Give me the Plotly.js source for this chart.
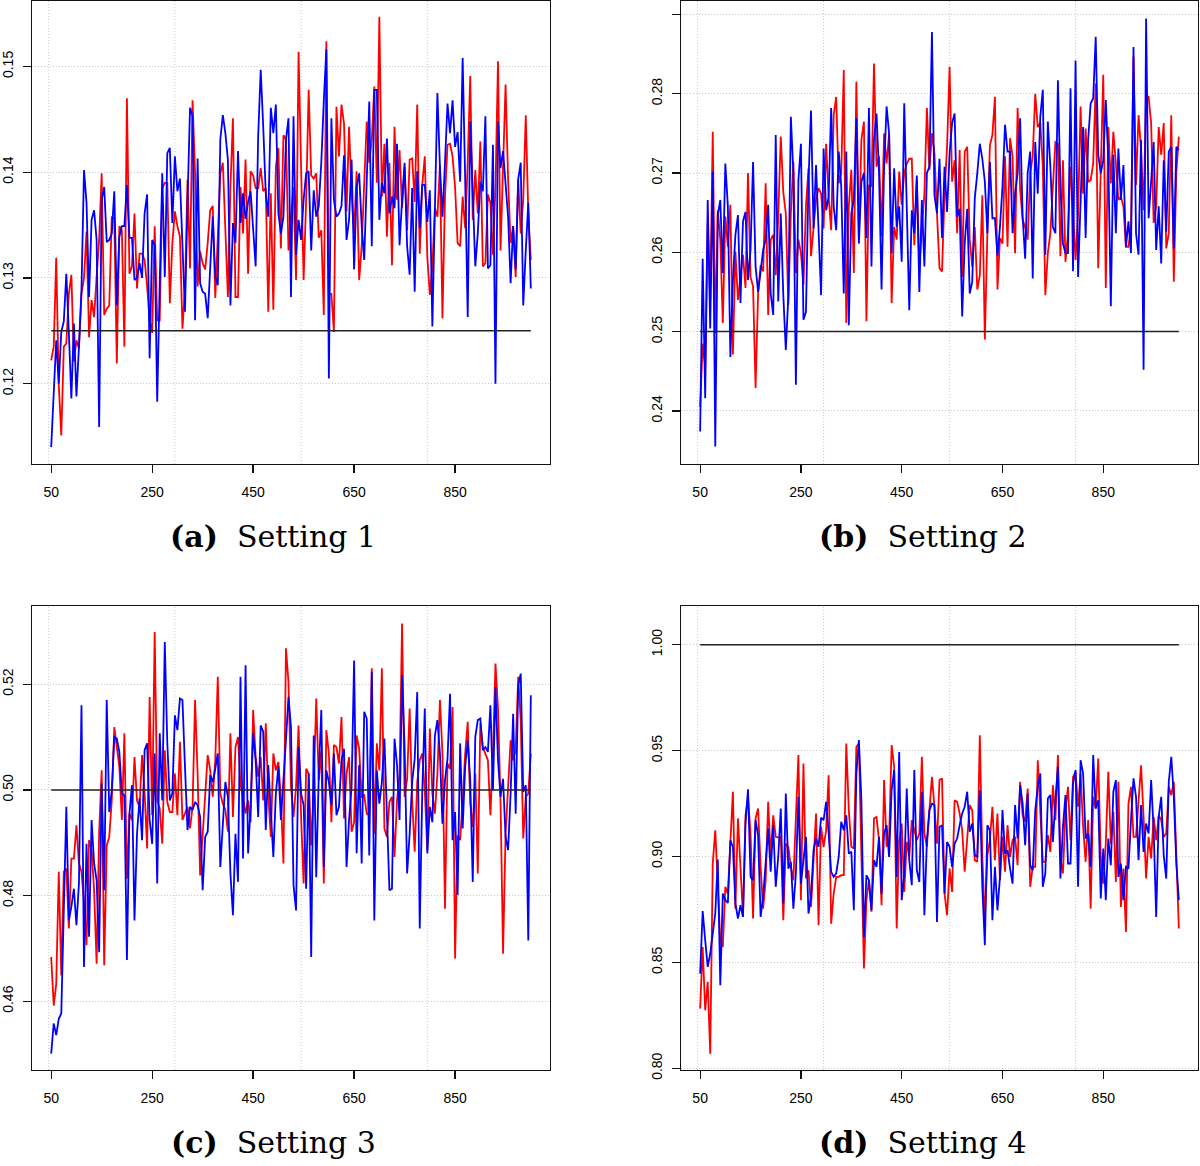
<!DOCTYPE html>
<html>
<head>
<meta charset="utf-8">
<script src="https://cdn.plot.ly/plotly-3.0.1.min.js"></script>
<style>
  html, body { margin: 0; padding: 0; background: #ffffff; }
  #chart { width: 1200px; height: 1166px; }
</style>
</head>
<body>
<div id="chart"></div>
<script>
// ---------- data ----------
const sampleSizes = [50,55,60,65,70,75,80,85,90,95,100,105,110,115,120,125,130,135,140,145,150,155,160,165,170,175,180,185,190,195,200,205,210,215,220,225,230,235,240,245,250,255,260,265,270,275,280,285,290,295,300,305,310,315,320,325,330,335,340,345,350,355,360,365,370,375,380,385,390,395,400,405,410,415,420,425,430,435,440,445,450,455,460,465,470,475,480,485,490,495,500,505,510,515,520,525,530,535,540,545,550,555,560,565,570,575,580,585,590,595,600,605,610,615,620,625,630,635,640,645,650,655,660,665,670,675,680,685,690,695,700,705,710,715,720,725,730,735,740,745,750,755,760,765,770,775,780,785,790,795,800,805,810,815,820,825,830,835,840,845,850,855,860,865,870,875,880,885,890,895,900,905,910,915,920,925,930,935,940,945,950,955,960,965,970,975,980,985,990,995,1000];

const xTickVals = [50, 250, 450, 650, 850];
const xGridVals = [45, 295, 545, 795];

const captions = ["<b>(a)</b>  Setting 1", "<b>(b)</b>  Setting 2", "<b>(c)</b>  Setting 3", "<b>(d)</b>  Setting 4"];
const trueValues = [0.125, 0.25, 0.5, 1.0];

const yTicks1 = [0.12, 0.13, 0.14, 0.15];
const yTicks2 = [0.24, 0.25, 0.26, 0.27, 0.28, 0.29];
const yTicks3 = [0.46, 0.48, 0.50, 0.52];
const yTicks4 = [0.80, 0.85, 0.90, 0.95, 1.00];

const s1Red = [0.1222,0.1235,0.1319,0.1199,0.1151,0.1235,0.1238,0.1285,0.1303,0.1221,
0.1241,0.1233,0.1285,0.1300,0.1344,0.1244,0.1279,0.1263,0.1301,0.1336,
0.1399,0.1265,0.1271,0.1274,0.1358,0.1356,0.1219,0.1349,0.1345,0.1235,
0.1470,0.1304,0.1311,0.1361,0.1290,0.1323,0.1323,0.1317,0.1292,0.1260,
0.1248,0.1349,0.1260,0.1260,0.1385,0.1390,0.1390,0.1276,0.1333,0.1363,
0.1349,0.1339,0.1252,0.1289,0.1393,0.1309,0.1468,0.1399,0.1292,0.1325,
0.1314,0.1308,0.1333,0.1364,0.1368,0.1281,0.1339,0.1399,0.1409,0.1349,
0.1282,0.1386,0.1451,0.1282,0.1282,0.1386,0.1342,0.1412,0.1304,0.1401,
0.1397,0.1385,0.1385,0.1404,0.1382,0.1385,0.1268,0.1380,0.1270,0.1405,
0.1423,0.1328,0.1435,0.1431,0.1326,0.1358,0.1386,0.1298,0.1514,0.1405,
0.1298,0.1374,0.1478,0.1397,0.1394,0.1399,0.1338,0.1345,0.1265,0.1524,
0.1285,0.1285,0.1249,0.1462,0.1415,0.1464,0.1446,0.1363,0.1443,0.1380,
0.1342,0.1401,0.1298,0.1330,0.1386,0.1448,0.1409,0.1431,0.1481,0.1390,
0.1547,0.1377,0.1427,0.1339,0.1409,0.1312,0.1443,0.1374,0.1421,0.1366,
0.1405,0.1345,0.1412,0.1413,0.1372,0.1464,0.1323,0.1388,0.1415,0.1320,
0.1284,0.1311,0.1366,0.1358,0.1407,0.1262,0.1377,0.1426,0.1427,0.1415,
0.1386,0.1333,0.1330,0.1377,0.1347,0.1409,0.1491,0.1355,0.1402,0.1361,
0.1429,0.1311,0.1314,0.1379,0.1371,0.1322,0.1386,0.1505,0.1326,0.1405,
0.1483,0.1393,0.1333,0.1349,0.1301,0.1393,0.1342,0.1374,0.1454,0.1361,
0.1317];

const s1Blue = [0.1140,0.1191,0.1241,0.1200,0.1249,0.1259,0.1304,0.1248,0.1186,0.1257,
0.1188,0.1235,0.1289,0.1402,0.1371,0.1282,0.1355,0.1364,0.1336,0.1159,
0.1374,0.1386,0.1334,0.1336,0.1342,0.1382,0.1274,0.1339,0.1349,0.1349,
0.1388,0.1338,0.1338,0.1298,0.1300,0.1314,0.1300,0.1361,0.1379,0.1224,
0.1336,0.1331,0.1183,0.1295,0.1399,0.1301,0.1418,0.1423,0.1352,0.1415,
0.1382,0.1394,0.1328,0.1268,0.1371,0.1461,0.1453,0.1260,0.1413,0.1295,
0.1287,0.1285,0.1262,0.1311,0.1358,0.1301,0.1293,0.1431,0.1454,0.1437,
0.1412,0.1274,0.1352,0.1333,0.1420,0.1352,0.1380,0.1356,0.1372,0.1382,
0.1342,0.1311,0.1434,0.1497,0.1443,0.1380,0.1358,0.1461,0.1437,0.1464,
0.1361,0.1342,0.1358,0.1431,0.1451,0.1282,0.1453,0.1322,0.1355,0.1336,
0.1374,0.1399,0.1401,0.1326,0.1383,0.1358,0.1368,0.1409,0.1468,0.1516,
0.1205,0.1451,0.1374,0.1358,0.1361,0.1368,0.1416,0.1336,0.1355,0.1412,
0.1308,0.1386,0.1399,0.1349,0.1317,0.1399,0.1467,0.1330,0.1478,0.1478,
0.1355,0.1390,0.1380,0.1432,0.1361,0.1377,0.1366,0.1427,0.1331,0.1374,
0.1409,0.1330,0.1303,0.1385,0.1287,0.1401,0.1347,0.1388,0.1388,0.1353,
0.1383,0.1254,0.1361,0.1475,0.1405,0.1358,0.1409,0.1465,0.1437,0.1468,
0.1424,0.1438,0.1391,0.1508,0.1393,0.1263,0.1448,0.1368,0.1311,0.1342,
0.1391,0.1382,0.1453,0.1309,0.1312,0.1426,0.1200,0.1448,0.1404,0.1420,
0.1386,0.1358,0.1295,0.1349,0.1308,0.1393,0.1409,0.1274,0.1326,0.1371,
0.1290];

const s2Red = [0.2405,0.2485,0.2456,0.2637,0.2540,0.2752,0.2498,0.2653,0.2616,0.2511,
0.2645,0.2607,0.2660,0.2471,0.2601,0.2540,0.2569,0.2597,0.2555,0.2700,
0.2569,0.2557,0.2429,0.2548,0.2584,0.2576,0.2687,0.2521,0.2616,0.2622,
0.2571,0.2645,0.2746,0.2676,0.2649,0.2534,0.2649,0.2714,0.2574,0.2616,
0.2599,0.2559,0.2658,0.2706,0.2595,0.2628,0.2666,0.2681,0.2674,0.2630,
0.2737,0.2670,0.2628,0.2773,0.2796,0.2687,0.2700,0.2830,0.2511,0.2658,
0.2704,0.2574,0.2815,0.2618,0.2742,0.2765,0.2513,0.2685,0.2683,0.2838,
0.2708,0.2721,0.2620,0.2750,0.2712,0.2750,0.2536,0.2632,0.2616,0.2702,
0.2660,0.2700,0.2712,0.2718,0.2718,0.2609,0.2691,0.2584,0.2628,0.2674,
0.2782,0.2704,0.2750,0.2725,0.2649,0.2580,0.2576,0.2674,0.2733,0.2834,
0.2689,0.2716,0.2624,0.2729,0.2569,0.2727,0.2733,0.2616,0.2582,0.2632,
0.2553,0.2571,0.2672,0.2490,0.2624,0.2735,0.2748,0.2796,0.2553,0.2618,
0.2611,0.2721,0.2607,0.2744,0.2721,0.2599,0.2782,0.2679,0.2641,0.2632,
0.2616,0.2700,0.2721,0.2800,0.2758,0.2763,0.2708,0.2546,0.2599,0.2624,
0.2683,0.2739,0.2737,0.2595,0.2716,0.2588,0.2624,0.2708,0.2653,0.2590,
0.2649,0.2784,0.2674,0.2756,0.2689,0.2691,0.2712,0.2813,0.2580,0.2700,
0.2824,0.2555,0.2758,0.2687,0.2752,0.2712,0.2666,0.2670,0.2658,0.2607,
0.2607,0.2632,0.2847,0.2685,0.2773,0.2729,0.2653,0.2798,0.2796,0.2763,
0.2637,0.2658,0.2758,0.2723,0.2763,0.2605,0.2624,0.2773,0.2563,0.2700,
0.2746];

const s2Blue = [0.2374,0.2592,0.2416,0.2666,0.2504,0.2702,0.2355,0.2647,0.2666,0.2574,
0.2712,0.2658,0.2468,0.2565,0.2622,0.2647,0.2536,0.2639,0.2651,0.2565,
0.2603,0.2714,0.2582,0.2550,0.2576,0.2603,0.2616,0.2660,0.2548,0.2521,
0.2748,0.2538,0.2649,0.2546,0.2477,0.2544,0.2771,0.2700,0.2433,0.2691,
0.2737,0.2515,0.2525,0.2689,0.2779,0.2630,0.2710,0.2624,0.2546,0.2731,
0.2653,0.2670,0.2782,0.2658,0.2628,0.2727,0.2683,0.2548,0.2727,0.2508,
0.2649,0.2666,0.2769,0.2611,0.2689,0.2700,0.2618,0.2782,0.2582,0.2742,
0.2775,0.2700,0.2553,0.2706,0.2784,0.2750,0.2599,0.2706,0.2632,0.2658,
0.2588,0.2788,0.2655,0.2527,0.2653,0.2624,0.2697,0.2550,0.2666,0.2582,
0.2700,0.2708,0.2878,0.2672,0.2649,0.2718,0.2618,0.2708,0.2651,0.2725,
0.2763,0.2775,0.2645,0.2655,0.2519,0.2611,0.2655,0.2548,0.2563,0.2668,
0.2700,0.2737,0.2718,0.2689,0.2624,0.2714,0.2643,0.2643,0.2595,0.2632,
0.2683,0.2761,0.2727,0.2727,0.2624,0.2674,0.2700,0.2769,0.2645,0.2592,
0.2700,0.2727,0.2567,0.2739,0.2674,0.2771,0.2805,0.2597,0.2765,0.2708,
0.2632,0.2624,0.2817,0.2683,0.2611,0.2599,0.2599,0.2807,0.2576,0.2842,
0.2569,0.2674,0.2758,0.2618,0.2742,0.2788,0.2794,0.2872,0.2723,0.2700,
0.2716,0.2792,0.2716,0.2532,0.2723,0.2624,0.2731,0.2666,0.2710,0.2607,
0.2639,0.2599,0.2859,0.2624,0.2597,0.2742,0.2452,0.2895,0.2643,0.2689,
0.2739,0.2603,0.2658,0.2586,0.2716,0.2626,0.2727,0.2733,0.2605,0.2733,
0.2729];

const s3Red = [0.4684,0.4592,0.4633,0.4845,0.4649,0.4845,0.4851,0.4738,0.4870,0.4870,
0.4933,0.4861,0.4845,0.4788,0.4706,0.4905,0.4886,0.4810,0.4671,0.4921,
0.5037,0.4668,0.4895,0.4911,0.4980,0.5119,0.5081,0.5044,0.4943,0.5107,
0.4832,0.4955,0.4943,0.5062,0.4980,0.4968,0.5066,0.4996,0.4889,0.5176,
0.4952,0.5299,0.4980,0.4965,0.4898,0.5075,0.4977,0.4958,0.4958,0.5031,
0.4952,0.5091,0.4943,0.4955,0.4968,0.4927,0.4968,0.5170,0.5031,0.4838,
0.4908,0.4987,0.5066,0.5037,0.4987,0.5056,0.5214,0.4993,0.4974,0.4962,
0.4921,0.5107,0.4949,0.5081,0.5100,0.5009,0.4987,0.4955,0.4980,0.4939,
0.5151,0.5062,0.5025,0.5062,0.4980,0.5126,0.4990,0.4911,0.5069,0.5037,
0.5053,0.4984,0.4861,0.5268,0.5204,0.5006,0.4949,0.5006,0.5122,0.4949,
0.4823,0.5040,0.5031,0.4895,0.5003,0.5173,0.5018,0.5075,0.4823,0.5113,
0.5069,0.4939,0.5085,0.5081,0.5050,0.5138,0.4946,0.5031,0.5062,0.4921,
0.4939,0.5103,0.5078,0.4987,0.4990,0.4955,0.4952,0.5230,0.4917,0.5088,
0.5037,0.5230,0.4927,0.4911,0.4977,0.4987,0.4873,0.4980,0.5031,0.5315,
0.4987,0.5021,0.5154,0.4980,0.4883,0.5015,0.5056,0.5069,0.4999,0.4886,
0.5116,0.4993,0.4955,0.5031,0.5170,0.5069,0.4775,0.5050,0.5040,0.5157,
0.4681,0.4914,0.4905,0.4980,0.5069,0.5129,0.4974,0.4930,0.5031,0.4842,
0.5126,0.5081,0.5069,0.5056,0.4952,0.5069,0.5239,0.5154,0.4980,0.4690,
0.4917,0.5018,0.5094,0.5056,0.5075,0.5214,0.5132,0.4908,0.4987,0.4993,
0.5069];

const s3Blue = [0.4501,0.4558,0.4536,0.4567,0.4577,0.4791,0.4968,0.4753,0.4779,0.4813,
0.4744,0.4823,0.5160,0.4665,0.4898,0.4722,0.4943,0.4861,0.4829,0.4693,
0.5012,0.4810,0.5170,0.4958,0.4999,0.5100,0.5097,0.5072,0.4993,0.4990,
0.4678,0.4955,0.5009,0.4753,0.4917,0.4984,0.4905,0.5075,0.5088,0.4943,
0.4898,0.5069,0.4823,0.5107,0.4980,0.5280,0.5088,0.4980,0.4993,0.5141,
0.5113,0.5173,0.5170,0.5044,0.4924,0.4968,0.4962,0.4977,0.4971,0.4949,
0.4810,0.4911,0.4921,0.5028,0.5015,0.5040,0.5069,0.4854,0.4943,0.5015,
0.4987,0.4842,0.4763,0.4917,0.4826,0.5214,0.4870,0.5236,0.4880,0.4968,
0.5107,0.5056,0.4949,0.5122,0.5110,0.4924,0.5047,0.4955,0.4873,0.4993,
0.5044,0.4943,0.5012,0.5094,0.5176,0.5119,0.4820,0.4772,0.5081,0.4993,
0.4971,0.4813,0.5031,0.4684,0.5103,0.4835,0.5028,0.5151,0.4854,0.5037,
0.5015,0.4971,0.5069,0.4952,0.4968,0.5056,0.5078,0.4854,0.4943,0.5006,
0.5245,0.4880,0.5047,0.4861,0.5148,0.5135,0.4876,0.5223,0.4753,0.5037,
0.4974,0.5015,0.5097,0.4968,0.4810,0.4813,0.5097,0.5047,0.4943,0.5217,
0.5081,0.4842,0.4917,0.5015,0.5059,0.5185,0.4738,0.4996,0.5154,0.4880,
0.4968,0.4939,0.5103,0.5132,0.5069,0.4936,0.5018,0.5059,0.5182,0.4905,
0.4958,0.4801,0.5088,0.4927,0.5044,0.5094,0.5018,0.4826,0.5100,0.5132,
0.5135,0.5075,0.5081,0.5072,0.5160,0.4999,0.5195,0.5056,0.4987,0.5021,
0.4911,0.4886,0.4993,0.5144,0.4955,0.5198,0.5220,0.4996,0.5009,0.4715,
0.5179];

const s4Red = [0.8282,0.8573,0.8274,0.8408,0.8069,0.8967,0.9124,0.8857,0.8605,0.8573,
0.8857,0.8825,0.9046,0.9306,0.8754,0.9180,0.8951,0.8715,0.9195,0.9282,
0.9109,0.8707,0.9180,0.9227,0.8951,0.8754,0.8888,0.9258,0.8998,0.9195,
0.9093,0.9090,0.9093,0.8699,0.9061,0.9046,0.8951,0.8888,0.9187,0.9479,
0.8794,0.9439,0.8896,0.8935,0.8762,0.8975,0.9203,0.8676,0.9140,0.9046,
0.9124,0.9384,0.8683,0.8825,0.8904,0.8904,0.8912,0.8912,0.9534,0.9219,
0.9046,0.9038,0.9518,0.9534,0.9046,0.8471,0.8794,0.8888,0.8739,0.9180,
0.9187,0.9077,0.8770,0.9361,0.9046,0.9085,0.9526,0.9424,0.8660,0.9077,
0.9156,0.8833,0.9069,0.8998,0.9172,0.9124,0.9077,0.9109,0.9471,0.9109,
0.9046,0.9219,0.9376,0.9235,0.9061,0.9361,0.9369,0.8825,0.8723,0.8943,
0.8833,0.9266,0.9258,0.9203,0.9124,0.8928,0.9101,0.9243,0.9219,0.8983,
0.8975,0.9573,0.8998,0.8699,0.9006,0.9077,0.9235,0.8983,0.9203,0.8888,
0.9093,0.8928,0.9148,0.8998,0.9077,0.9093,0.8959,0.9353,0.9195,0.9164,
0.9321,0.8857,0.8951,0.8951,0.9455,0.9235,0.8975,0.8975,0.9101,0.9022,
0.9337,0.9172,0.9479,0.8991,0.8920,0.9219,0.9329,0.9077,0.9376,0.9400,
0.9235,0.9392,0.9140,0.8975,0.9172,0.8754,0.9282,0.9227,0.9463,0.8998,
0.8872,0.9061,0.9400,0.9061,0.9211,0.8880,0.9353,0.8762,0.8943,0.8644,
0.9250,0.9329,0.9093,0.9093,0.9266,0.9431,0.9187,0.8896,0.9093,0.8991,
0.9187,0.9077,0.9195,0.9172,0.9093,0.9109,0.9329,0.9290,0.9353,0.9030,
0.8660];

const s4Blue = [0.8447,0.8743,0.8605,0.8479,0.8542,0.8636,0.8731,0.8986,0.8392,0.8825,
0.8794,0.8781,0.9077,0.9046,0.8778,0.8707,0.8770,0.8715,0.9156,0.9317,
0.8904,0.8888,0.9172,0.9101,0.8715,0.8809,0.8951,0.9132,0.8928,0.9148,
0.8857,0.8998,0.9227,0.8778,0.9298,0.8943,0.8975,0.8754,0.8920,0.9282,
0.8872,0.8983,0.9093,0.8731,0.8809,0.9030,0.9085,0.9046,0.9184,0.9172,
0.9258,0.9109,0.8928,0.8904,0.8920,0.8998,0.9164,0.9124,0.9195,0.9014,
0.9022,0.8746,0.9392,0.9550,0.9266,0.8620,0.8912,0.8888,0.8746,0.8983,
0.8951,0.9093,0.8825,0.9109,0.9148,0.8998,0.9313,0.9408,0.8904,0.9494,
0.8794,0.8920,0.9321,0.8983,0.8865,0.9408,0.8935,0.8880,0.9306,0.8723,
0.9077,0.9219,0.9250,0.9243,0.8691,0.9140,0.9148,0.8825,0.9069,0.9046,
0.8951,0.9061,0.9085,0.9148,0.9203,0.9235,0.9306,0.9117,0.9156,0.9006,
0.8998,0.9313,0.8857,0.8581,0.9148,0.9124,0.8699,0.8951,0.8746,0.8904,
0.9219,0.9014,0.9030,0.8943,0.8872,0.9243,0.9085,0.9337,0.9250,0.9054,
0.9298,0.8959,0.8935,0.9219,0.9329,0.9392,0.8857,0.8920,0.9274,0.9290,
0.9069,0.9266,0.9424,0.8896,0.9140,0.9290,0.8967,0.8967,0.9345,0.9408,
0.8857,0.9455,0.9392,0.9085,0.9109,0.8951,0.9479,0.9227,0.9266,0.8802,
0.9038,0.8794,0.9085,0.8959,0.9306,0.9361,0.8904,0.8967,0.8794,0.8951,
0.8943,0.9172,0.9369,0.9282,0.8983,0.9243,0.9022,0.9156,0.9109,0.9361,
0.9124,0.8715,0.9187,0.9282,0.9006,0.8896,0.9353,0.9471,0.9282,0.8967,
0.8794];

// ---------- panel geometry (pixels of the 1200 x 1166 figure) ----------
const W = 1200, H = 1166;
const panels = [
  {red: s1Red, blue: s1Blue, ref: trueValues[0], yTicks: yTicks1, yRange: [0.1124, 0.1562], left: 32,  right: 550,  top: 1,   bottom: 464, caption: captions[0], capX: 273, capY: 536},
  {red: s2Red, blue: s2Blue, ref: trueValues[1], yTicks: yTicks2, yRange: [0.2333, 0.2917], left: 681, right: 1198, top: 1,   bottom: 464, caption: captions[1], capX: 923, capY: 536},
  {red: s3Red, blue: s3Blue, ref: trueValues[2], yTicks: yTicks3, yRange: [0.4470, 0.5348], left: 32,  right: 550,  top: 606, bottom: 1070, caption: captions[2], capX: 273, capY: 1142},
  {red: s4Red, blue: s4Blue, ref: trueValues[3], yTicks: yTicks4, yRange: [0.7992, 1.0183], left: 681, right: 1198, top: 606, bottom: 1070, caption: captions[3], capX: 923, capY: 1142}
];

const tickFont = {family: "'Liberation Sans', Arial, Helvetica, sans-serif", size: 14, color: '#000'};
const gridColor = '#c8c8c8';
const gridDash = '1px,2px';
const traces = [];
const layout = {
  width: W, height: H,
  margin: {l: 0, r: 0, t: 0, b: 0},
  paper_bgcolor: '#ffffff', plot_bgcolor: '#ffffff',
  showlegend: false,
  shapes: [], annotations: []
};

panels.forEach((p, i) => {
  const n = i + 1;
  const xa = n === 1 ? 'x' : 'x' + n;
  const ya = n === 1 ? 'y' : 'y' + n;
  const xKey = n === 1 ? 'xaxis' : 'xaxis' + n;
  const yKey = n === 1 ? 'yaxis' : 'yaxis' + n;

  layout[xKey] = {
    domain: [p.left / W, p.right / W], anchor: ya,
    range: [12, 1038], tickvals: xTickVals, ticktext: xTickVals.map(String),
    ticks: 'outside', ticklen: 8, tickwidth: 1.3, tickcolor: '#111',
    showline: true, mirror: true, linecolor: '#111', linewidth: 1.3,
    showgrid: false, zeroline: false, tickfont: tickFont, ticklabelstandoff: 7
  };
  layout[yKey] = {
    domain: [1 - p.bottom / H, 1 - p.top / H], anchor: xa,
    range: p.yRange, tickvals: p.yTicks, tickformat: '.2f', tickangle: -90,
    ticks: 'outside', ticklen: 8, tickwidth: 1.3, tickcolor: '#111',
    showline: true, mirror: true, linecolor: '#111', linewidth: 1.3,
    showgrid: true, gridcolor: gridColor, gridwidth: 1, griddash: gridDash,
    zeroline: false, tickfont: tickFont, ticklabelstandoff: 4
  };

  xGridVals.forEach(g => {
    layout.shapes.push({type: 'line', xref: xa, yref: ya + ' domain', x0: g, x1: g, y0: 0, y1: 1,
      layer: 'below', line: {color: gridColor, width: 1, dash: gridDash}});
  });

  traces.push({x: sampleSizes, y: p.red, xaxis: xa, yaxis: ya, type: 'scatter', mode: 'lines',
    line: {color: '#ff0000', width: 1.8}, hoverinfo: 'skip'});
  traces.push({x: sampleSizes, y: p.blue, xaxis: xa, yaxis: ya, type: 'scatter', mode: 'lines',
    line: {color: '#0000ff', width: 1.8}, hoverinfo: 'skip'});
  traces.push({x: [sampleSizes[0], sampleSizes[sampleSizes.length - 1]], y: [p.ref, p.ref], xaxis: xa, yaxis: ya,
    type: 'scatter', mode: 'lines', line: {color: '#222', width: 1.5}, hoverinfo: 'skip'});

  layout.annotations.push({
    xref: 'paper', yref: 'paper', x: p.capX / W, y: 1 - p.capY / H,
    xanchor: 'center', yanchor: 'middle', showarrow: false,
    text: p.caption,
    font: {family: "'DejaVu Serif', 'Liberation Serif', serif", size: 30, color: '#000'}
  });
});

Plotly.newPlot('chart', traces, layout, {staticPlot: true, displayModeBar: false});
</script>
</body>
</html>
